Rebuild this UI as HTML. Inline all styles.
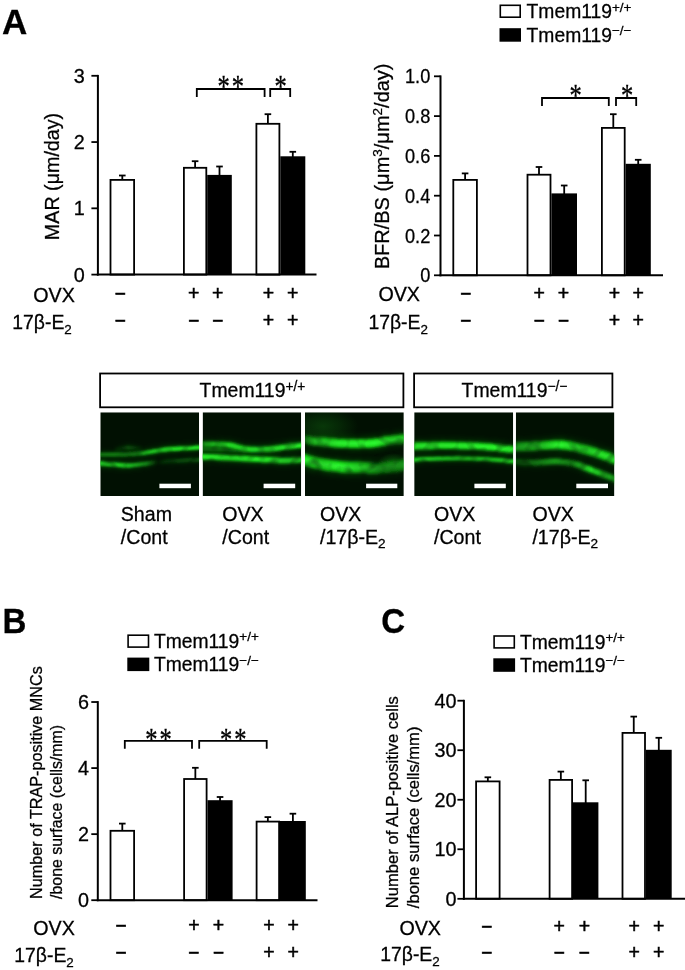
<!DOCTYPE html>
<html lang="en"><head><meta charset="utf-8"><title>Figure</title>
<style>html,body{margin:0;padding:0;background:#fff}svg{display:block}text{fill:#000;stroke:#000;stroke-width:.28px}</style>
</head><body>
<svg width="685" height="970" viewBox="0 0 685 970">
<rect width="685" height="970" fill="#fff"/>
<text x="2.0" y="34.4" font-family='"Liberation Sans", sans-serif' font-size="35" font-weight="bold" text-anchor="start" >A</text>
<text x="0" y="0" font-family='"Liberation Sans", sans-serif' font-size="36" font-weight="bold" text-anchor="start" transform="translate(2.6 632.7) scale(0.92 1)">B</text>
<text x="0" y="0" font-family='"Liberation Sans", sans-serif' font-size="36" font-weight="bold" text-anchor="start" transform="translate(381.3 632.7) scale(0.92 1)">C</text>
<line x1="122.3" y1="175.5" x2="122.3" y2="179.9" stroke="#000" stroke-width="1.8" stroke-linecap="butt"/>
<line x1="119.0" y1="175.5" x2="125.6" y2="175.5" stroke="#000" stroke-width="1.8" stroke-linecap="butt"/>
<rect x="110.5" y="179.90" width="23.600000000000005" height="94.70" fill="#fff" stroke="#000" stroke-width="1.8"/>
<line x1="195.1" y1="161.2" x2="195.1" y2="167.8" stroke="#000" stroke-width="1.8" stroke-linecap="butt"/>
<line x1="191.79999999999998" y1="161.2" x2="198.4" y2="161.2" stroke="#000" stroke-width="1.8" stroke-linecap="butt"/>
<rect x="183.9" y="167.80" width="22.399999999999988" height="106.80" fill="#fff" stroke="#000" stroke-width="1.8"/>
<line x1="219.5" y1="166.5" x2="219.5" y2="175.8" stroke="#000" stroke-width="1.8" stroke-linecap="butt"/>
<line x1="216.2" y1="166.5" x2="222.8" y2="166.5" stroke="#000" stroke-width="1.8" stroke-linecap="butt"/>
<rect x="207.2" y="174.90" width="24.600000000000023" height="99.70" fill="#000"/>
<line x1="267.9" y1="114.2" x2="267.9" y2="123.8" stroke="#000" stroke-width="1.8" stroke-linecap="butt"/>
<line x1="264.59999999999997" y1="114.2" x2="271.2" y2="114.2" stroke="#000" stroke-width="1.8" stroke-linecap="butt"/>
<rect x="256.4" y="123.80" width="23.00000000000001" height="150.80" fill="#fff" stroke="#000" stroke-width="1.8"/>
<line x1="292.8" y1="151.8" x2="292.8" y2="157.2" stroke="#000" stroke-width="1.8" stroke-linecap="butt"/>
<line x1="289.5" y1="151.8" x2="296.1" y2="151.8" stroke="#000" stroke-width="1.8" stroke-linecap="butt"/>
<rect x="280.3" y="156.30" width="25.0" height="118.30" fill="#000"/>
<line x1="97.9" y1="74.89999999999999" x2="97.9" y2="275.6" stroke="#000" stroke-width="2" stroke-linecap="butt"/>
<line x1="96.9" y1="274.6" x2="316.5" y2="274.6" stroke="#000" stroke-width="2" stroke-linecap="butt"/>
<line x1="91.4" y1="274.6" x2="97.9" y2="274.6" stroke="#000" stroke-width="1.8" stroke-linecap="butt"/>
<text x="84.8" y="281.70000000000005" font-family='"Liberation Sans", sans-serif' font-size="19.8" font-weight="normal" text-anchor="end" >0</text>
<line x1="91.4" y1="208.33000000000004" x2="97.9" y2="208.33000000000004" stroke="#000" stroke-width="1.8" stroke-linecap="butt"/>
<text x="84.8" y="215.43000000000004" font-family='"Liberation Sans", sans-serif' font-size="19.8" font-weight="normal" text-anchor="end" >1</text>
<line x1="91.4" y1="142.06000000000003" x2="97.9" y2="142.06000000000003" stroke="#000" stroke-width="1.8" stroke-linecap="butt"/>
<text x="84.8" y="149.16000000000003" font-family='"Liberation Sans", sans-serif' font-size="19.8" font-weight="normal" text-anchor="end" >2</text>
<line x1="91.4" y1="75.79000000000002" x2="97.9" y2="75.79000000000002" stroke="#000" stroke-width="1.8" stroke-linecap="butt"/>
<text x="84.8" y="82.89000000000001" font-family='"Liberation Sans", sans-serif' font-size="19.8" font-weight="normal" text-anchor="end" >3</text>
<text x="0" y="0" font-family='"Liberation Sans", sans-serif' font-size="19.7" font-weight="normal" text-anchor="middle" transform="translate(59.3 176.5) rotate(-90)">MAR (μm/day)</text>
<path d="M196.8 97V89H264.6V97" fill="none" stroke="#000" stroke-width="1.8"/>
<path d="M270.2 97V89H290.2V97" fill="none" stroke="#000" stroke-width="1.8"/>
<text transform="translate(231.70 96.86) scale(1 1.27)" font-family='"Liberation Serif", serif' font-size="24.5" text-anchor="middle" letter-spacing="2.05" stroke="#000" stroke-width="0.3">**</text>
<text transform="translate(280.60 96.86) scale(1 1.27)" font-family='"Liberation Serif", serif' font-size="24.5" text-anchor="middle" stroke="#000" stroke-width="0.3">*</text>
<text x="74.8" y="301.7" font-family='"Liberation Sans", sans-serif' font-size="19.7" font-weight="normal" text-anchor="end" >OVX</text>
<text x="71.8" y="328.6" font-family='"Liberation Sans", sans-serif' font-size="19.35" font-weight="normal" text-anchor="end" >17β-E<tspan font-size="13.4" dy="5">2</tspan></text>
<text x="120.2" y="299.52" font-family='"Liberation Sans", sans-serif' font-size="19.0" font-weight="normal" text-anchor="middle" style="stroke-width:.6px">−</text>
<text x="120.2" y="326.62" font-family='"Liberation Sans", sans-serif' font-size="19.0" font-weight="normal" text-anchor="middle" style="stroke-width:.6px">−</text>
<text x="193.8" y="299.68" font-family='"Liberation Sans", sans-serif' font-size="19.5" font-weight="normal" text-anchor="middle" style="stroke-width:.5px">+</text>
<text x="193.8" y="326.62" font-family='"Liberation Sans", sans-serif' font-size="19.0" font-weight="normal" text-anchor="middle" style="stroke-width:.6px">−</text>
<text x="217.8" y="299.68" font-family='"Liberation Sans", sans-serif' font-size="19.5" font-weight="normal" text-anchor="middle" style="stroke-width:.5px">+</text>
<text x="217.8" y="326.62" font-family='"Liberation Sans", sans-serif' font-size="19.0" font-weight="normal" text-anchor="middle" style="stroke-width:.6px">−</text>
<text x="268.5" y="299.68" font-family='"Liberation Sans", sans-serif' font-size="19.5" font-weight="normal" text-anchor="middle" style="stroke-width:.5px">+</text>
<text x="268.5" y="326.78" font-family='"Liberation Sans", sans-serif' font-size="19.5" font-weight="normal" text-anchor="middle" style="stroke-width:.5px">+</text>
<text x="292.6" y="299.68" font-family='"Liberation Sans", sans-serif' font-size="19.5" font-weight="normal" text-anchor="middle" style="stroke-width:.5px">+</text>
<text x="292.6" y="326.78" font-family='"Liberation Sans", sans-serif' font-size="19.5" font-weight="normal" text-anchor="middle" style="stroke-width:.5px">+</text>
<line x1="465.1" y1="173.4" x2="465.1" y2="179.9" stroke="#000" stroke-width="1.8" stroke-linecap="butt"/>
<line x1="461.8" y1="173.4" x2="468.40000000000003" y2="173.4" stroke="#000" stroke-width="1.8" stroke-linecap="butt"/>
<rect x="453.29999999999995" y="179.90" width="23.600000000000033" height="95.40" fill="#fff" stroke="#000" stroke-width="1.8"/>
<line x1="539.0" y1="167" x2="539.0" y2="174.7" stroke="#000" stroke-width="1.8" stroke-linecap="butt"/>
<line x1="535.7" y1="167" x2="542.3" y2="167" stroke="#000" stroke-width="1.8" stroke-linecap="butt"/>
<rect x="527.5" y="174.70" width="22.999999999999954" height="100.60" fill="#fff" stroke="#000" stroke-width="1.8"/>
<line x1="564.2" y1="185.5" x2="564.2" y2="194.3" stroke="#000" stroke-width="1.8" stroke-linecap="butt"/>
<line x1="560.9000000000001" y1="185.5" x2="567.5" y2="185.5" stroke="#000" stroke-width="1.8" stroke-linecap="butt"/>
<rect x="551.4" y="193.40" width="25.600000000000023" height="81.90" fill="#000"/>
<line x1="613.3" y1="114.2" x2="613.3" y2="127.9" stroke="#000" stroke-width="1.8" stroke-linecap="butt"/>
<line x1="610.0" y1="114.2" x2="616.5999999999999" y2="114.2" stroke="#000" stroke-width="1.8" stroke-linecap="butt"/>
<rect x="601.9" y="127.90" width="22.800000000000022" height="147.40" fill="#fff" stroke="#000" stroke-width="1.8"/>
<line x1="638.2" y1="159.8" x2="638.2" y2="164.7" stroke="#000" stroke-width="1.8" stroke-linecap="butt"/>
<line x1="634.9000000000001" y1="159.8" x2="641.5" y2="159.8" stroke="#000" stroke-width="1.8" stroke-linecap="butt"/>
<rect x="625.6" y="163.80" width="25.199999999999932" height="111.50" fill="#000"/>
<line x1="440.5" y1="75.39999999999999" x2="440.5" y2="276.3" stroke="#000" stroke-width="2" stroke-linecap="butt"/>
<line x1="439.5" y1="275.3" x2="663" y2="275.3" stroke="#000" stroke-width="2" stroke-linecap="butt"/>
<line x1="434.0" y1="275.3" x2="440.5" y2="275.3" stroke="#000" stroke-width="1.8" stroke-linecap="butt"/>
<text x="0" y="0" font-family='"Liberation Sans", sans-serif' font-size="19.8" font-weight="normal" text-anchor="end" transform="translate(430.3 282.40) scale(0.92 1)">0</text>
<line x1="434.0" y1="235.5" x2="440.5" y2="235.5" stroke="#000" stroke-width="1.8" stroke-linecap="butt"/>
<text x="0" y="0" font-family='"Liberation Sans", sans-serif' font-size="19.8" font-weight="normal" text-anchor="end" transform="translate(430.3 242.60) scale(0.92 1)">0.2</text>
<line x1="434.0" y1="195.7" x2="440.5" y2="195.7" stroke="#000" stroke-width="1.8" stroke-linecap="butt"/>
<text x="0" y="0" font-family='"Liberation Sans", sans-serif' font-size="19.8" font-weight="normal" text-anchor="end" transform="translate(430.3 202.80) scale(0.92 1)">0.4</text>
<line x1="434.0" y1="155.90000000000003" x2="440.5" y2="155.90000000000003" stroke="#000" stroke-width="1.8" stroke-linecap="butt"/>
<text x="0" y="0" font-family='"Liberation Sans", sans-serif' font-size="19.8" font-weight="normal" text-anchor="end" transform="translate(430.3 163.00) scale(0.92 1)">0.6</text>
<line x1="434.0" y1="116.1" x2="440.5" y2="116.1" stroke="#000" stroke-width="1.8" stroke-linecap="butt"/>
<text x="0" y="0" font-family='"Liberation Sans", sans-serif' font-size="19.8" font-weight="normal" text-anchor="end" transform="translate(430.3 123.20) scale(0.92 1)">0.8</text>
<line x1="434.0" y1="76.30000000000001" x2="440.5" y2="76.30000000000001" stroke="#000" stroke-width="1.8" stroke-linecap="butt"/>
<text x="0" y="0" font-family='"Liberation Sans", sans-serif' font-size="19.8" font-weight="normal" text-anchor="end" transform="translate(430.3 83.40) scale(0.92 1)">1.0</text>
<text x="0" y="0" font-family='"Liberation Sans", sans-serif' font-size="20" font-weight="normal" text-anchor="middle" transform="translate(388.8 166.4) rotate(-90)">BFR/BS (μm<tspan font-size="13.5" dy="-6.5">3</tspan><tspan dy="6.5">/μm</tspan><tspan font-size="13.5" dy="-6.5">2</tspan><tspan dy="6.5">/day)</tspan></text>
<path d="M542 105.9V98H608.8V105.9" fill="none" stroke="#000" stroke-width="1.8"/>
<path d="M616 105.9V98H636.2V105.9" fill="none" stroke="#000" stroke-width="1.8"/>
<text transform="translate(575.60 105.66) scale(1 1.27)" font-family='"Liberation Serif", serif' font-size="24.5" text-anchor="middle" stroke="#000" stroke-width="0.3">*</text>
<text transform="translate(627.20 105.66) scale(1 1.27)" font-family='"Liberation Serif", serif' font-size="24.5" text-anchor="middle" stroke="#000" stroke-width="0.3">*</text>
<text x="420" y="301.0" font-family='"Liberation Sans", sans-serif' font-size="19.7" font-weight="normal" text-anchor="end" >OVX</text>
<text x="427.9" y="328.6" font-family='"Liberation Sans", sans-serif' font-size="19.35" font-weight="normal" text-anchor="end" >17β-E<tspan font-size="13.4" dy="5">2</tspan></text>
<text x="465.8" y="299.72" font-family='"Liberation Sans", sans-serif' font-size="19.0" font-weight="normal" text-anchor="middle" style="stroke-width:.6px">−</text>
<text x="465.8" y="326.62" font-family='"Liberation Sans", sans-serif' font-size="19.0" font-weight="normal" text-anchor="middle" style="stroke-width:.6px">−</text>
<text x="539.2" y="299.88" font-family='"Liberation Sans", sans-serif' font-size="19.5" font-weight="normal" text-anchor="middle" style="stroke-width:.5px">+</text>
<text x="539.2" y="326.62" font-family='"Liberation Sans", sans-serif' font-size="19.0" font-weight="normal" text-anchor="middle" style="stroke-width:.6px">−</text>
<text x="563.5" y="299.88" font-family='"Liberation Sans", sans-serif' font-size="19.5" font-weight="normal" text-anchor="middle" style="stroke-width:.5px">+</text>
<text x="563.5" y="326.62" font-family='"Liberation Sans", sans-serif' font-size="19.0" font-weight="normal" text-anchor="middle" style="stroke-width:.6px">−</text>
<text x="614.5" y="299.88" font-family='"Liberation Sans", sans-serif' font-size="19.5" font-weight="normal" text-anchor="middle" style="stroke-width:.5px">+</text>
<text x="614.5" y="326.78" font-family='"Liberation Sans", sans-serif' font-size="19.5" font-weight="normal" text-anchor="middle" style="stroke-width:.5px">+</text>
<text x="638.2" y="299.88" font-family='"Liberation Sans", sans-serif' font-size="19.5" font-weight="normal" text-anchor="middle" style="stroke-width:.5px">+</text>
<text x="638.2" y="326.78" font-family='"Liberation Sans", sans-serif' font-size="19.5" font-weight="normal" text-anchor="middle" style="stroke-width:.5px">+</text>
<rect x="500.3" y="5.3" width="19.9" height="11.9" fill="#fff" stroke="#000" stroke-width="1.6"/>
<rect x="499.5" y="28.2" width="21.5" height="13.5" fill="#000"/>
<text x="526.6" y="18.0" font-family='"Liberation Sans", sans-serif' font-size="19.3" font-weight="normal" text-anchor="start" >Tmem119<tspan font-size="13.5" dy="-6.5">+/+</tspan></text>
<text x="526.6" y="41.7" font-family='"Liberation Sans", sans-serif' font-size="19.3" font-weight="normal" text-anchor="start" >Tmem119<tspan font-size="13.5" dy="-6.5">−/−</tspan></text>
<g><defs>
<filter id="bl1" filterUnits="userSpaceOnUse" x="-15" y="-15" width="130" height="115"><feGaussianBlur stdDeviation="1.7"/></filter>
<filter id="bl2" filterUnits="userSpaceOnUse" x="-15" y="-15" width="130" height="115"><feGaussianBlur stdDeviation="3.2"/></filter>
<filter id="bl0" filterUnits="userSpaceOnUse" x="-15" y="-15" width="130" height="115"><feGaussianBlur stdDeviation="1.2"/></filter>
<clipPath id="cp1"><rect x="0" y="0" width="98.8" height="83.7"/></clipPath>
<linearGradient id="g1_0" gradientUnits="userSpaceOnUse" x1="-3" y1="0" x2="101" y2="0"><stop offset="0" stop-color="#fff" stop-opacity="0.45"/><stop offset="0.35" stop-color="#fff" stop-opacity="0.55"/><stop offset="0.6" stop-color="#fff" stop-opacity="0.95"/><stop offset="1" stop-color="#fff" stop-opacity="1"/></linearGradient>
<mask id="m1_0" maskUnits="userSpaceOnUse" x="-5" y="-5" width="110" height="95"><rect x="-5" y="-5" width="110" height="95" fill="url(#g1_0)"/></mask>
<linearGradient id="g1_1" gradientUnits="userSpaceOnUse" x1="-3" y1="0" x2="58.5" y2="0"><stop offset="0" stop-color="#fff" stop-opacity="1"/><stop offset="0.5" stop-color="#fff" stop-opacity="0.8"/><stop offset="0.8" stop-color="#fff" stop-opacity="0.5"/><stop offset="1" stop-color="#fff" stop-opacity="0.0"/></linearGradient>
<mask id="m1_1" maskUnits="userSpaceOnUse" x="-5" y="-5" width="110" height="95"><rect x="-5" y="-5" width="110" height="95" fill="url(#g1_1)"/></mask>
<linearGradient id="g1_2" gradientUnits="userSpaceOnUse" x1="55" y1="0" x2="101" y2="0"><stop offset="0" stop-color="#fff" stop-opacity="0.0"/><stop offset="0.3" stop-color="#fff" stop-opacity="0.22"/><stop offset="1" stop-color="#fff" stop-opacity="0.3"/></linearGradient>
<mask id="m1_2" maskUnits="userSpaceOnUse" x="-5" y="-5" width="110" height="95"><rect x="-5" y="-5" width="110" height="95" fill="url(#g1_2)"/></mask>
<linearGradient id="g1_3" gradientUnits="userSpaceOnUse" x1="12" y1="0" x2="44" y2="0"><stop offset="0" stop-color="#fff" stop-opacity="0"/><stop offset="0.5" stop-color="#fff" stop-opacity="0.25"/><stop offset="1" stop-color="#fff" stop-opacity="0"/></linearGradient>
<mask id="m1_3" maskUnits="userSpaceOnUse" x="-5" y="-5" width="110" height="95"><rect x="-5" y="-5" width="110" height="95" fill="url(#g1_3)"/></mask>
<clipPath id="cp2"><rect x="0" y="0" width="98.6" height="83.7"/></clipPath>
<linearGradient id="g2_0" gradientUnits="userSpaceOnUse" x1="-3" y1="0" x2="101" y2="0"><stop offset="0" stop-color="#fff" stop-opacity="0.5"/><stop offset="0.25" stop-color="#fff" stop-opacity="0.9"/><stop offset="0.45" stop-color="#fff" stop-opacity="0.9"/><stop offset="0.7" stop-color="#fff" stop-opacity="0.85"/><stop offset="0.9" stop-color="#fff" stop-opacity="1"/><stop offset="1" stop-color="#fff" stop-opacity="1"/></linearGradient>
<mask id="m2_0" maskUnits="userSpaceOnUse" x="-5" y="-5" width="110" height="95"><rect x="-5" y="-5" width="110" height="95" fill="url(#g2_0)"/></mask>
<linearGradient id="g2_1" gradientUnits="userSpaceOnUse" x1="-3" y1="0" x2="42" y2="0"><stop offset="0" stop-color="#fff" stop-opacity="0.35"/><stop offset="1" stop-color="#fff" stop-opacity="0.3"/></linearGradient>
<mask id="m2_1" maskUnits="userSpaceOnUse" x="-5" y="-5" width="110" height="95"><rect x="-5" y="-5" width="110" height="95" fill="url(#g2_1)"/></mask>
<linearGradient id="g2_2" gradientUnits="userSpaceOnUse" x1="-3" y1="0" x2="101" y2="0"><stop offset="0" stop-color="#fff" stop-opacity="1"/><stop offset="0.3" stop-color="#fff" stop-opacity="0.85"/><stop offset="0.6" stop-color="#fff" stop-opacity="1"/><stop offset="0.8" stop-color="#fff" stop-opacity="0.8"/><stop offset="1" stop-color="#fff" stop-opacity="0.75"/></linearGradient>
<mask id="m2_2" maskUnits="userSpaceOnUse" x="-5" y="-5" width="110" height="95"><rect x="-5" y="-5" width="110" height="95" fill="url(#g2_2)"/></mask>
<clipPath id="cp3"><rect x="0" y="0" width="98.8" height="83.7"/></clipPath>
<linearGradient id="g3_0" gradientUnits="userSpaceOnUse" x1="-3" y1="0" x2="101" y2="0"><stop offset="0" stop-color="#fff" stop-opacity="0.25"/><stop offset="0.12" stop-color="#fff" stop-opacity="0.7"/><stop offset="0.35" stop-color="#fff" stop-opacity="0.95"/><stop offset="0.7" stop-color="#fff" stop-opacity="1"/><stop offset="0.85" stop-color="#fff" stop-opacity="0.8"/><stop offset="1" stop-color="#fff" stop-opacity="0.8"/></linearGradient>
<mask id="m3_0" maskUnits="userSpaceOnUse" x="-5" y="-5" width="110" height="95"><rect x="-5" y="-5" width="110" height="95" fill="url(#g3_0)"/></mask>
<linearGradient id="g3_1" gradientUnits="userSpaceOnUse" x1="-3" y1="0" x2="101" y2="0"><stop offset="0" stop-color="#fff" stop-opacity="1"/><stop offset="0.15" stop-color="#fff" stop-opacity="0.8"/><stop offset="0.35" stop-color="#fff" stop-opacity="1"/><stop offset="0.6" stop-color="#fff" stop-opacity="0.75"/><stop offset="0.78" stop-color="#fff" stop-opacity="0.45"/><stop offset="0.9" stop-color="#fff" stop-opacity="0.4"/><stop offset="1" stop-color="#fff" stop-opacity="0.55"/></linearGradient>
<mask id="m3_1" maskUnits="userSpaceOnUse" x="-5" y="-5" width="110" height="95"><rect x="-5" y="-5" width="110" height="95" fill="url(#g3_1)"/></mask>
<clipPath id="cp4"><rect x="0" y="0" width="99.0" height="83.7"/></clipPath>
<linearGradient id="g4_0" gradientUnits="userSpaceOnUse" x1="-3" y1="0" x2="102" y2="0"><stop offset="0" stop-color="#fff" stop-opacity="0.9"/><stop offset="0.5" stop-color="#fff" stop-opacity="0.95"/><stop offset="0.8" stop-color="#fff" stop-opacity="1"/><stop offset="1" stop-color="#fff" stop-opacity="0.9"/></linearGradient>
<mask id="m4_0" maskUnits="userSpaceOnUse" x="-5" y="-5" width="110" height="95"><rect x="-5" y="-5" width="110" height="95" fill="url(#g4_0)"/></mask>
<linearGradient id="g4_1" gradientUnits="userSpaceOnUse" x1="-3" y1="0" x2="102" y2="0"><stop offset="0" stop-color="#fff" stop-opacity="0.85"/><stop offset="0.5" stop-color="#fff" stop-opacity="0.7"/><stop offset="1" stop-color="#fff" stop-opacity="0.85"/></linearGradient>
<mask id="m4_1" maskUnits="userSpaceOnUse" x="-5" y="-5" width="110" height="95"><rect x="-5" y="-5" width="110" height="95" fill="url(#g4_1)"/></mask>
<clipPath id="cp5"><rect x="0" y="0" width="98.6" height="83.7"/></clipPath>
<linearGradient id="g5_0" gradientUnits="userSpaceOnUse" x1="-3" y1="0" x2="102" y2="0"><stop offset="0" stop-color="#fff" stop-opacity="0.55"/><stop offset="0.25" stop-color="#fff" stop-opacity="0.7"/><stop offset="0.45" stop-color="#fff" stop-opacity="1"/><stop offset="0.65" stop-color="#fff" stop-opacity="0.75"/><stop offset="0.85" stop-color="#fff" stop-opacity="0.9"/><stop offset="1" stop-color="#fff" stop-opacity="0.9"/></linearGradient>
<mask id="m5_0" maskUnits="userSpaceOnUse" x="-5" y="-5" width="110" height="95"><rect x="-5" y="-5" width="110" height="95" fill="url(#g5_0)"/></mask>
<linearGradient id="g5_1" gradientUnits="userSpaceOnUse" x1="-3" y1="0" x2="102" y2="0"><stop offset="0" stop-color="#fff" stop-opacity="0.25"/><stop offset="0.2" stop-color="#fff" stop-opacity="0.4"/><stop offset="0.4" stop-color="#fff" stop-opacity="0.6"/><stop offset="0.55" stop-color="#fff" stop-opacity="0.45"/><stop offset="0.75" stop-color="#fff" stop-opacity="0.9"/><stop offset="0.9" stop-color="#fff" stop-opacity="0.6"/><stop offset="1" stop-color="#fff" stop-opacity="0.8"/></linearGradient>
<mask id="m5_1" maskUnits="userSpaceOnUse" x="-5" y="-5" width="110" height="95"><rect x="-5" y="-5" width="110" height="95" fill="url(#g5_1)"/></mask>
<filter id="grain" filterUnits="userSpaceOnUse" x="-5" y="-5" width="115" height="100"><feTurbulence type="fractalNoise" baseFrequency="0.11" numOctaves="1" seed="7" result="n"/><feColorMatrix in="n" type="matrix" values="0 0 0 0 0  0 0 0 0 0  0 0 0 0 0  1.3 0 0 0 0.3" result="a"/><feComposite in="SourceGraphic" in2="a" operator="in"/></filter>
<radialGradient id="hz"><stop offset="0" stop-color="#20c020" stop-opacity="1"/><stop offset="0.5" stop-color="#20c020" stop-opacity=".55"/><stop offset="1" stop-color="#20c020" stop-opacity="0"/></radialGradient>
</defs>
<g transform="translate(100.3 412.3)"><g clip-path="url(#cp1)">
<rect x="0" y="0" width="98.8" height="83.7" fill="#011002"/>
<g filter="url(#grain)">
<g mask="url(#m1_0)">
<path d="M-3.0 42.2C0.8 42.2 12.3 42.5 20.0 42.2C27.7 42.0 35.3 41.5 43.0 40.7C50.7 39.9 56.3 38.2 66.0 37.2C75.7 36.2 95.2 35.4 101.0 35.0" fill="none" stroke="#0a800d" stroke-width="6.1" opacity=".4" filter="url(#bl2)"/>
<path d="M-3.0 42.2C0.8 42.2 12.3 42.5 20.0 42.2C27.7 42.0 35.3 41.5 43.0 40.7C50.7 39.9 56.3 38.2 66.0 37.2C75.7 36.2 95.2 35.4 101.0 35.0" fill="none" stroke="#14da18" stroke-width="4.0" filter="url(#bl1)"/>
<path d="M-3.0 42.2C0.8 42.2 12.3 42.5 20.0 42.2C27.7 42.0 35.3 41.5 43.0 40.7C50.7 39.9 56.3 38.2 66.0 37.2C75.7 36.2 95.2 35.4 101.0 35.0" fill="none" stroke="#34ff38" stroke-width="1.8" opacity=".8" filter="url(#bl0)"/>
</g>
<g mask="url(#m1_1)">
<path d="M-3.0 51.0C-0.2 51.2 8.8 51.8 14.0 52.2C19.2 52.6 22.8 53.3 28.0 53.2C33.2 53.1 39.9 52.1 45.0 51.5C50.1 50.9 56.2 50.0 58.5 49.7" fill="none" stroke="#0a800d" stroke-width="6.5" opacity=".4" filter="url(#bl2)"/>
<path d="M-3.0 51.0C-0.2 51.2 8.8 51.8 14.0 52.2C19.2 52.6 22.8 53.3 28.0 53.2C33.2 53.1 39.9 52.1 45.0 51.5C50.1 50.9 56.2 50.0 58.5 49.7" fill="none" stroke="#14da18" stroke-width="4.2" filter="url(#bl1)"/>
<path d="M-3.0 51.0C-0.2 51.2 8.8 51.8 14.0 52.2C19.2 52.6 22.8 53.3 28.0 53.2C33.2 53.1 39.9 52.1 45.0 51.5C50.1 50.9 56.2 50.0 58.5 49.7" fill="none" stroke="#34ff38" stroke-width="1.9" opacity=".8" filter="url(#bl0)"/>
</g>
<g mask="url(#m1_2)">
<path d="M55.0 50.0C58.3 49.8 67.3 49.0 75.0 48.5C82.7 48.0 96.7 47.4 101.0 47.2" fill="none" stroke="#0a800d" stroke-width="6.1" opacity=".4" filter="url(#bl2)"/>
<path d="M55.0 50.0C58.3 49.8 67.3 49.0 75.0 48.5C82.7 48.0 96.7 47.4 101.0 47.2" fill="none" stroke="#14da18" stroke-width="4.0" filter="url(#bl1)"/>
<path d="M55.0 50.0C58.3 49.8 67.3 49.0 75.0 48.5C82.7 48.0 96.7 47.4 101.0 47.2" fill="none" stroke="#34ff38" stroke-width="1.8" opacity=".8" filter="url(#bl0)"/>
</g>
<g mask="url(#m1_3)">
<path d="M12.0 37.0C14.7 36.8 22.7 35.7 28.0 35.5C33.3 35.3 41.3 35.9 44.0 36.0" fill="none" stroke="#0a800d" stroke-width="6.8" opacity=".4" filter="url(#bl2)"/>
<path d="M12.0 37.0C14.7 36.8 22.7 35.7 28.0 35.5C33.3 35.3 41.3 35.9 44.0 36.0" fill="none" stroke="#14da18" stroke-width="4.4" filter="url(#bl1)"/>
<path d="M12.0 37.0C14.7 36.8 22.7 35.7 28.0 35.5C33.3 35.3 41.3 35.9 44.0 36.0" fill="none" stroke="#34ff38" stroke-width="2.0" opacity=".8" filter="url(#bl0)"/>
</g>
</g>
</g></g>
<rect x="159.4" y="483.7" width="31.5" height="4.5" fill="#fff"/>
<g transform="translate(202.6 412.3)"><g clip-path="url(#cp2)">
<rect x="0" y="0" width="98.6" height="83.7" fill="#011002"/>
<g filter="url(#grain)">
<g mask="url(#m2_0)">
<path d="M-3.0 32.0C-0.2 32.0 8.8 31.8 14.0 32.0C19.2 32.2 23.2 32.2 28.0 33.0C32.8 33.8 36.7 36.1 43.0 36.7C49.3 37.4 58.3 37.4 66.0 36.9C73.7 36.4 83.2 34.4 89.0 33.7C94.8 33.1 99.0 33.1 101.0 33.0" fill="none" stroke="#0a800d" stroke-width="8.5" opacity=".4" filter="url(#bl2)"/>
<path d="M-3.0 32.0C-0.2 32.0 8.8 31.8 14.0 32.0C19.2 32.2 23.2 32.2 28.0 33.0C32.8 33.8 36.7 36.1 43.0 36.7C49.3 37.4 58.3 37.4 66.0 36.9C73.7 36.4 83.2 34.4 89.0 33.7C94.8 33.1 99.0 33.1 101.0 33.0" fill="none" stroke="#14da18" stroke-width="5.5" filter="url(#bl1)"/>
<path d="M-3.0 32.0C-0.2 32.0 8.8 31.8 14.0 32.0C19.2 32.2 23.2 32.2 28.0 33.0C32.8 33.8 36.7 36.1 43.0 36.7C49.3 37.4 58.3 37.4 66.0 36.9C73.7 36.4 83.2 34.4 89.0 33.7C94.8 33.1 99.0 33.1 101.0 33.0" fill="none" stroke="#34ff38" stroke-width="2.5" opacity=".8" filter="url(#bl0)"/>
</g>
<g mask="url(#m2_1)">
<path d="M-3.0 36.8C0.0 36.9 9.5 36.9 15.0 37.2C20.5 37.5 25.5 38.3 30.0 38.5C34.5 38.7 40.0 38.5 42.0 38.5" fill="none" stroke="#0a800d" stroke-width="6.0" opacity=".4" filter="url(#bl2)"/>
<path d="M-3.0 36.8C0.0 36.9 9.5 36.9 15.0 37.2C20.5 37.5 25.5 38.3 30.0 38.5C34.5 38.7 40.0 38.5 42.0 38.5" fill="none" stroke="#14da18" stroke-width="3.9" filter="url(#bl1)"/>
<path d="M-3.0 36.8C0.0 36.9 9.5 36.9 15.0 37.2C20.5 37.5 25.5 38.3 30.0 38.5C34.5 38.7 40.0 38.5 42.0 38.5" fill="none" stroke="#34ff38" stroke-width="1.8" opacity=".8" filter="url(#bl0)"/>
</g>
<g mask="url(#m2_2)">
<path d="M-3.0 44.3C2.2 44.5 17.8 45.0 28.0 45.5C38.2 46.0 49.7 46.5 58.5 47.0C67.3 47.5 73.9 48.2 81.0 48.3C88.1 48.4 97.7 47.5 101.0 47.4" fill="none" stroke="#0a800d" stroke-width="8.8" opacity=".4" filter="url(#bl2)"/>
<path d="M-3.0 44.3C2.2 44.5 17.8 45.0 28.0 45.5C38.2 46.0 49.7 46.5 58.5 47.0C67.3 47.5 73.9 48.2 81.0 48.3C88.1 48.4 97.7 47.5 101.0 47.4" fill="none" stroke="#14da18" stroke-width="5.7" filter="url(#bl1)"/>
<path d="M-3.0 44.3C2.2 44.5 17.8 45.0 28.0 45.5C38.2 46.0 49.7 46.5 58.5 47.0C67.3 47.5 73.9 48.2 81.0 48.3C88.1 48.4 97.7 47.5 101.0 47.4" fill="none" stroke="#34ff38" stroke-width="2.6" opacity=".8" filter="url(#bl0)"/>
</g>
</g>
</g></g>
<rect x="263.6" y="483.7" width="31.6" height="4.5" fill="#fff"/>
<g transform="translate(305.0 412.3)"><g clip-path="url(#cp3)">
<rect x="0" y="0" width="98.8" height="83.7" fill="#011002"/>
<ellipse cx="18" cy="14" rx="35.2" ry="19.200000000000003" fill="url(#hz)" opacity="0.22399999999999998"/>
<ellipse cx="88" cy="52" rx="16.0" ry="11.200000000000001" fill="url(#hz)" opacity="0.35"/>
<g filter="url(#grain)">
<g mask="url(#m3_0)">
<path d="M-3.0 27.3C-0.3 27.6 6.9 28.5 13.4 29.1C19.9 29.7 27.1 30.7 36.0 31.0C44.9 31.3 58.9 31.4 66.5 31.0C74.1 30.6 76.0 29.2 81.7 28.4C87.5 27.5 97.8 26.3 101.0 25.9" fill="none" stroke="#0a800d" stroke-width="13.6" opacity=".4" filter="url(#bl2)"/>
<path d="M-3.0 27.3C-0.3 27.6 6.9 28.5 13.4 29.1C19.9 29.7 27.1 30.7 36.0 31.0C44.9 31.3 58.9 31.4 66.5 31.0C74.1 30.6 76.0 29.2 81.7 28.4C87.5 27.5 97.8 26.3 101.0 25.9" fill="none" stroke="#14da18" stroke-width="8.8" filter="url(#bl1)"/>
<path d="M-3.0 27.3C-0.3 27.6 6.9 28.5 13.4 29.1C19.9 29.7 27.1 30.7 36.0 31.0C44.9 31.3 58.9 31.4 66.5 31.0C74.1 30.6 76.0 29.2 81.7 28.4C87.5 27.5 97.8 26.3 101.0 25.9" fill="none" stroke="#34ff38" stroke-width="4.0" opacity=".8" filter="url(#bl0)"/>
</g>
<g mask="url(#m3_1)">
<path d="M-3.0 46.5C-0.3 47.3 6.9 49.9 13.4 51.2C19.9 52.5 28.4 53.7 36.0 54.4C43.6 55.1 52.7 55.0 59.0 55.2C65.3 55.5 67.0 56.4 74.0 55.9C81.0 55.4 96.5 52.6 101.0 52.0" fill="none" stroke="#0a800d" stroke-width="17.0" opacity=".4" filter="url(#bl2)"/>
<path d="M-3.0 46.5C-0.3 47.3 6.9 49.9 13.4 51.2C19.9 52.5 28.4 53.7 36.0 54.4C43.6 55.1 52.7 55.0 59.0 55.2C65.3 55.5 67.0 56.4 74.0 55.9C81.0 55.4 96.5 52.6 101.0 52.0" fill="none" stroke="#14da18" stroke-width="11.0" filter="url(#bl1)"/>
<path d="M-3.0 46.5C-0.3 47.3 6.9 49.9 13.4 51.2C19.9 52.5 28.4 53.7 36.0 54.4C43.6 55.1 52.7 55.0 59.0 55.2C65.3 55.5 67.0 56.4 74.0 55.9C81.0 55.4 96.5 52.6 101.0 52.0" fill="none" stroke="#34ff38" stroke-width="5.0" opacity=".8" filter="url(#bl0)"/>
</g>
</g>
</g></g>
<rect x="366.1" y="483.7" width="31.2" height="4.5" fill="#fff"/>
<g transform="translate(414.2 412.3)"><g clip-path="url(#cp4)">
<rect x="0" y="0" width="99.0" height="83.7" fill="#011002"/>
<g filter="url(#grain)">
<g mask="url(#m4_0)">
<path d="M-3.0 33.9C2.2 33.8 17.8 33.0 28.0 33.0C38.2 33.0 49.7 33.3 58.5 33.7C67.3 34.1 73.8 34.5 81.0 35.2C88.2 35.9 98.5 37.4 102.0 37.8" fill="none" stroke="#0a800d" stroke-width="11.0" opacity=".4" filter="url(#bl2)"/>
<path d="M-3.0 33.9C2.2 33.8 17.8 33.0 28.0 33.0C38.2 33.0 49.7 33.3 58.5 33.7C67.3 34.1 73.8 34.5 81.0 35.2C88.2 35.9 98.5 37.4 102.0 37.8" fill="none" stroke="#14da18" stroke-width="7.2" filter="url(#bl1)"/>
<path d="M-3.0 33.9C2.2 33.8 17.8 33.0 28.0 33.0C38.2 33.0 49.7 33.3 58.5 33.7C67.3 34.1 73.8 34.5 81.0 35.2C88.2 35.9 98.5 37.4 102.0 37.8" fill="none" stroke="#34ff38" stroke-width="3.2" opacity=".8" filter="url(#bl0)"/>
</g>
<g mask="url(#m4_1)">
<path d="M-3.0 47.6C2.2 47.4 17.8 46.4 28.0 46.2C38.2 46.0 49.7 46.0 58.5 46.2C67.3 46.4 73.8 46.9 81.0 47.4C88.2 47.9 98.5 49.1 102.0 49.4" fill="none" stroke="#0a800d" stroke-width="6.1" opacity=".4" filter="url(#bl2)"/>
<path d="M-3.0 47.6C2.2 47.4 17.8 46.4 28.0 46.2C38.2 46.0 49.7 46.0 58.5 46.2C67.3 46.4 73.8 46.9 81.0 47.4C88.2 47.9 98.5 49.1 102.0 49.4" fill="none" stroke="#14da18" stroke-width="4.0" filter="url(#bl1)"/>
<path d="M-3.0 47.6C2.2 47.4 17.8 46.4 28.0 46.2C38.2 46.0 49.7 46.0 58.5 46.2C67.3 46.4 73.8 46.9 81.0 47.4C88.2 47.9 98.5 49.1 102.0 49.4" fill="none" stroke="#34ff38" stroke-width="1.8" opacity=".8" filter="url(#bl0)"/>
</g>
</g>
</g></g>
<rect x="474.4" y="483.7" width="31.4" height="4.5" fill="#fff"/>
<g transform="translate(515.8 412.3)"><g clip-path="url(#cp5)">
<rect x="0" y="0" width="98.6" height="83.7" fill="#011002"/>
<g filter="url(#grain)">
<g mask="url(#m5_0)">
<path d="M-3.0 34.6C0.8 34.5 11.8 34.1 20.0 33.7C28.2 33.4 38.4 32.1 46.0 32.5C53.6 32.9 59.9 35.0 65.7 36.3C71.5 37.6 75.0 38.5 81.0 40.5C87.0 42.5 98.5 46.8 102.0 48.0" fill="none" stroke="#0a800d" stroke-width="13.6" opacity=".4" filter="url(#bl2)"/>
<path d="M-3.0 34.6C0.8 34.5 11.8 34.1 20.0 33.7C28.2 33.4 38.4 32.1 46.0 32.5C53.6 32.9 59.9 35.0 65.7 36.3C71.5 37.6 75.0 38.5 81.0 40.5C87.0 42.5 98.5 46.8 102.0 48.0" fill="none" stroke="#14da18" stroke-width="8.8" filter="url(#bl1)"/>
<path d="M-3.0 34.6C0.8 34.5 11.8 34.1 20.0 33.7C28.2 33.4 38.4 32.1 46.0 32.5C53.6 32.9 59.9 35.0 65.7 36.3C71.5 37.6 75.0 38.5 81.0 40.5C87.0 42.5 98.5 46.8 102.0 48.0" fill="none" stroke="#34ff38" stroke-width="4.0" opacity=".8" filter="url(#bl0)"/>
</g>
<g mask="url(#m5_1)">
<path d="M-3.0 49.5C0.8 49.6 12.8 50.5 20.0 50.4C27.2 50.3 33.7 48.8 40.0 48.9C46.3 49.0 51.9 49.7 58.0 51.2C64.1 52.7 70.8 55.9 76.4 58.0C82.0 60.1 87.2 62.0 91.5 63.7C95.8 65.4 100.2 67.5 102.0 68.2" fill="none" stroke="#0a800d" stroke-width="9.3" opacity=".4" filter="url(#bl2)"/>
<path d="M-3.0 49.5C0.8 49.6 12.8 50.5 20.0 50.4C27.2 50.3 33.7 48.8 40.0 48.9C46.3 49.0 51.9 49.7 58.0 51.2C64.1 52.7 70.8 55.9 76.4 58.0C82.0 60.1 87.2 62.0 91.5 63.7C95.8 65.4 100.2 67.5 102.0 68.2" fill="none" stroke="#14da18" stroke-width="6.1" filter="url(#bl1)"/>
<path d="M-3.0 49.5C0.8 49.6 12.8 50.5 20.0 50.4C27.2 50.3 33.7 48.8 40.0 48.9C46.3 49.0 51.9 49.7 58.0 51.2C64.1 52.7 70.8 55.9 76.4 58.0C82.0 60.1 87.2 62.0 91.5 63.7C95.8 65.4 100.2 67.5 102.0 68.2" fill="none" stroke="#34ff38" stroke-width="2.8" opacity=".8" filter="url(#bl0)"/>
</g>
</g>
</g></g>
<rect x="576.3" y="483.7" width="31.7" height="4.5" fill="#fff"/>
<rect x="100.10000000000001" y="373.5" width="303.3" height="33.79999999999997" fill="#fff" stroke="#000" stroke-width="1.8"/>
<rect x="414.09999999999997" y="373.5" width="198.29999999999995" height="33.79999999999997" fill="#fff" stroke="#000" stroke-width="1.8"/>
<text x="199.6" y="397.2" font-family='"Liberation Sans", sans-serif' font-size="19.4" text-anchor="start">Tmem119<tspan font-size="13.8" dy="-6.5">+/+</tspan></text>
<text x="461.6" y="397.2" font-family='"Liberation Sans", sans-serif' font-size="19.4" text-anchor="start">Tmem119<tspan font-size="13.8" dy="-6.5">−/−</tspan></text>
<text x="120.8" y="520.7" font-family='"Liberation Sans", sans-serif' font-size="19.6" text-anchor="start">Sham</text>
<text x="120.8" y="544.3" font-family='"Liberation Sans", sans-serif' font-size="19.6" text-anchor="start">/Cont</text>
<text x="222.3" y="520.7" font-family='"Liberation Sans", sans-serif' font-size="19.6" text-anchor="start">OVX</text>
<text x="222.3" y="544.3" font-family='"Liberation Sans", sans-serif' font-size="19.6" text-anchor="start">/Cont</text>
<text x="320" y="520.7" font-family='"Liberation Sans", sans-serif' font-size="19.6" text-anchor="start">OVX</text>
<text x="320" y="544.3" font-family='"Liberation Sans", sans-serif' font-size="19.6" text-anchor="start">/17β-E<tspan font-size="13.6" dy="4">2</tspan></text>
<text x="434" y="520.7" font-family='"Liberation Sans", sans-serif' font-size="19.6" text-anchor="start">OVX</text>
<text x="434" y="544.3" font-family='"Liberation Sans", sans-serif' font-size="19.6" text-anchor="start">/Cont</text>
<text x="532.4" y="520.7" font-family='"Liberation Sans", sans-serif' font-size="19.6" text-anchor="start">OVX</text>
<text x="532.4" y="544.3" font-family='"Liberation Sans", sans-serif' font-size="19.6" text-anchor="start">/17β-E<tspan font-size="13.6" dy="4">2</tspan></text></g>
<line x1="122.3" y1="823.6" x2="122.3" y2="830.8" stroke="#000" stroke-width="1.8" stroke-linecap="butt"/>
<line x1="119.0" y1="823.6" x2="125.6" y2="823.6" stroke="#000" stroke-width="1.8" stroke-linecap="butt"/>
<rect x="110.5" y="830.80" width="23.600000000000005" height="69.40" fill="#fff" stroke="#000" stroke-width="1.8"/>
<line x1="195.35" y1="767.8" x2="195.35" y2="779.0" stroke="#000" stroke-width="1.8" stroke-linecap="butt"/>
<line x1="192.04999999999998" y1="767.8" x2="198.65" y2="767.8" stroke="#000" stroke-width="1.8" stroke-linecap="butt"/>
<rect x="184.1" y="779.00" width="22.50000000000001" height="121.20" fill="#fff" stroke="#000" stroke-width="1.8"/>
<line x1="220.05" y1="797" x2="220.05" y2="801.1" stroke="#000" stroke-width="1.8" stroke-linecap="butt"/>
<line x1="216.75" y1="797" x2="223.35000000000002" y2="797" stroke="#000" stroke-width="1.8" stroke-linecap="butt"/>
<rect x="207.5" y="800.20" width="25.099999999999994" height="100.00" fill="#000"/>
<line x1="267.85" y1="817.1" x2="267.85" y2="821.6" stroke="#000" stroke-width="1.8" stroke-linecap="butt"/>
<line x1="264.55" y1="817.1" x2="271.15000000000003" y2="817.1" stroke="#000" stroke-width="1.8" stroke-linecap="butt"/>
<rect x="256.59999999999997" y="821.60" width="22.50000000000001" height="78.60" fill="#fff" stroke="#000" stroke-width="1.8"/>
<line x1="292.9" y1="813.7" x2="292.9" y2="821.9" stroke="#000" stroke-width="1.8" stroke-linecap="butt"/>
<line x1="289.59999999999997" y1="813.7" x2="296.2" y2="813.7" stroke="#000" stroke-width="1.8" stroke-linecap="butt"/>
<rect x="280" y="821.00" width="25.80000000000001" height="79.20" fill="#000"/>
<line x1="97.8" y1="701.1" x2="97.8" y2="901.2" stroke="#000" stroke-width="2" stroke-linecap="butt"/>
<line x1="96.8" y1="900.2" x2="317.5" y2="900.2" stroke="#000" stroke-width="2" stroke-linecap="butt"/>
<line x1="91.3" y1="900.2" x2="97.8" y2="900.2" stroke="#000" stroke-width="1.8" stroke-linecap="butt"/>
<text x="88.9" y="907.3000000000001" font-family='"Liberation Sans", sans-serif' font-size="19.8" font-weight="normal" text-anchor="end" >0</text>
<line x1="91.3" y1="834.1400000000001" x2="97.8" y2="834.1400000000001" stroke="#000" stroke-width="1.8" stroke-linecap="butt"/>
<text x="88.9" y="841.2400000000001" font-family='"Liberation Sans", sans-serif' font-size="19.8" font-weight="normal" text-anchor="end" >2</text>
<line x1="91.3" y1="768.08" x2="97.8" y2="768.08" stroke="#000" stroke-width="1.8" stroke-linecap="butt"/>
<text x="88.9" y="775.1800000000001" font-family='"Liberation Sans", sans-serif' font-size="19.8" font-weight="normal" text-anchor="end" >4</text>
<line x1="91.3" y1="702.02" x2="97.8" y2="702.02" stroke="#000" stroke-width="1.8" stroke-linecap="butt"/>
<text x="88.9" y="709.12" font-family='"Liberation Sans", sans-serif' font-size="19.8" font-weight="normal" text-anchor="end" >6</text>
<text x="0" y="0" font-family='"Liberation Sans", sans-serif' font-size="16.2" font-weight="normal" text-anchor="start" transform="translate(41.9 898.9) rotate(-90)">Number of TRAP-positive MNCs</text>
<text x="0" y="0" font-family='"Liberation Sans", sans-serif' font-size="15.9" font-weight="normal" text-anchor="start" transform="translate(62.3 898.9) rotate(-90)">/bone surface (cells/mm)</text>
<path d="M124.8 748.8V740.8H192V748.8" fill="none" stroke="#000" stroke-width="1.8"/>
<path d="M199.2 748.8V740.8H266.7V748.8" fill="none" stroke="#000" stroke-width="1.8"/>
<text transform="translate(159.60 749.76) scale(1 1.27)" font-family='"Liberation Serif", serif' font-size="24.5" text-anchor="middle" letter-spacing="2.05" stroke="#000" stroke-width="0.3">**</text>
<text transform="translate(234.30 749.76) scale(1 1.27)" font-family='"Liberation Serif", serif' font-size="24.5" text-anchor="middle" letter-spacing="2.05" stroke="#000" stroke-width="0.3">**</text>
<text x="74.8" y="934.55" font-family='"Liberation Sans", sans-serif' font-size="19.7" font-weight="normal" text-anchor="end" >OVX</text>
<text x="73.8" y="961.5" font-family='"Liberation Sans", sans-serif' font-size="19.35" font-weight="normal" text-anchor="end" >17β-E<tspan font-size="13.4" dy="5">2</tspan></text>
<text x="121" y="932.32" font-family='"Liberation Sans", sans-serif' font-size="19.0" font-weight="normal" text-anchor="middle" style="stroke-width:.6px">−</text>
<text x="121" y="958.92" font-family='"Liberation Sans", sans-serif' font-size="19.0" font-weight="normal" text-anchor="middle" style="stroke-width:.6px">−</text>
<text x="193.9" y="932.48" font-family='"Liberation Sans", sans-serif' font-size="19.5" font-weight="normal" text-anchor="middle" style="stroke-width:.5px">+</text>
<text x="193.9" y="958.92" font-family='"Liberation Sans", sans-serif' font-size="19.0" font-weight="normal" text-anchor="middle" style="stroke-width:.6px">−</text>
<text x="218.5" y="932.48" font-family='"Liberation Sans", sans-serif' font-size="19.5" font-weight="normal" text-anchor="middle" style="stroke-width:.5px">+</text>
<text x="218.5" y="958.92" font-family='"Liberation Sans", sans-serif' font-size="19.0" font-weight="normal" text-anchor="middle" style="stroke-width:.6px">−</text>
<text x="269" y="932.48" font-family='"Liberation Sans", sans-serif' font-size="19.5" font-weight="normal" text-anchor="middle" style="stroke-width:.5px">+</text>
<text x="269" y="959.08" font-family='"Liberation Sans", sans-serif' font-size="19.5" font-weight="normal" text-anchor="middle" style="stroke-width:.5px">+</text>
<text x="293.3" y="932.48" font-family='"Liberation Sans", sans-serif' font-size="19.5" font-weight="normal" text-anchor="middle" style="stroke-width:.5px">+</text>
<text x="293.3" y="959.08" font-family='"Liberation Sans", sans-serif' font-size="19.5" font-weight="normal" text-anchor="middle" style="stroke-width:.5px">+</text>
<rect x="128.1" y="635.1999999999999" width="20.4" height="11.9" fill="#fff" stroke="#000" stroke-width="1.6"/>
<rect x="127.3" y="657.6" width="22" height="13.5" fill="#000"/>
<text x="153.9" y="647.9" font-family='"Liberation Sans", sans-serif' font-size="19.3" font-weight="normal" text-anchor="start" >Tmem119<tspan font-size="13.5" dy="-6.5">+/+</tspan></text>
<text x="153.9" y="671.1" font-family='"Liberation Sans", sans-serif' font-size="19.3" font-weight="normal" text-anchor="start" >Tmem119<tspan font-size="13.5" dy="-6.5">−/−</tspan></text>
<line x1="487.85" y1="777.3" x2="487.85" y2="781.4" stroke="#000" stroke-width="1.8" stroke-linecap="butt"/>
<line x1="484.55" y1="777.3" x2="491.15000000000003" y2="777.3" stroke="#000" stroke-width="1.8" stroke-linecap="butt"/>
<rect x="476.09999999999997" y="781.40" width="23.50000000000001" height="117.40" fill="#fff" stroke="#000" stroke-width="1.8"/>
<line x1="560.85" y1="771.6" x2="560.85" y2="779.9" stroke="#000" stroke-width="1.8" stroke-linecap="butt"/>
<line x1="557.5500000000001" y1="771.6" x2="564.15" y2="771.6" stroke="#000" stroke-width="1.8" stroke-linecap="butt"/>
<rect x="549.6" y="779.90" width="22.499999999999954" height="118.90" fill="#fff" stroke="#000" stroke-width="1.8"/>
<line x1="585.7" y1="780.3" x2="585.7" y2="803.2" stroke="#000" stroke-width="1.8" stroke-linecap="butt"/>
<line x1="582.4000000000001" y1="780.3" x2="589.0" y2="780.3" stroke="#000" stroke-width="1.8" stroke-linecap="butt"/>
<rect x="573" y="802.30" width="25.399999999999977" height="96.50" fill="#000"/>
<line x1="633.75" y1="716.6" x2="633.75" y2="732.9" stroke="#000" stroke-width="1.8" stroke-linecap="butt"/>
<line x1="630.45" y1="716.6" x2="637.05" y2="716.6" stroke="#000" stroke-width="1.8" stroke-linecap="butt"/>
<rect x="622.5" y="732.90" width="22.499999999999954" height="165.90" fill="#fff" stroke="#000" stroke-width="1.8"/>
<line x1="658.8" y1="737.8" x2="658.8" y2="750.7" stroke="#000" stroke-width="1.8" stroke-linecap="butt"/>
<line x1="655.5" y1="737.8" x2="662.0999999999999" y2="737.8" stroke="#000" stroke-width="1.8" stroke-linecap="butt"/>
<rect x="645.9" y="749.80" width="25.800000000000068" height="149.00" fill="#000"/>
<line x1="463.9" y1="699.8000000000001" x2="463.9" y2="899.8" stroke="#000" stroke-width="2" stroke-linecap="butt"/>
<line x1="462.9" y1="898.8" x2="686" y2="898.8" stroke="#000" stroke-width="2" stroke-linecap="butt"/>
<line x1="457.4" y1="898.8" x2="463.9" y2="898.8" stroke="#000" stroke-width="1.8" stroke-linecap="butt"/>
<text x="456.6" y="905.9" font-family='"Liberation Sans", sans-serif' font-size="19.8" font-weight="normal" text-anchor="end" >0</text>
<line x1="457.4" y1="849.275" x2="463.9" y2="849.275" stroke="#000" stroke-width="1.8" stroke-linecap="butt"/>
<text x="456.6" y="856.375" font-family='"Liberation Sans", sans-serif' font-size="19.8" font-weight="normal" text-anchor="end" >10</text>
<line x1="457.4" y1="799.75" x2="463.9" y2="799.75" stroke="#000" stroke-width="1.8" stroke-linecap="butt"/>
<text x="456.6" y="806.85" font-family='"Liberation Sans", sans-serif' font-size="19.8" font-weight="normal" text-anchor="end" >20</text>
<line x1="457.4" y1="750.2249999999999" x2="463.9" y2="750.2249999999999" stroke="#000" stroke-width="1.8" stroke-linecap="butt"/>
<text x="456.6" y="757.3249999999999" font-family='"Liberation Sans", sans-serif' font-size="19.8" font-weight="normal" text-anchor="end" >30</text>
<line x1="457.4" y1="700.6999999999999" x2="463.9" y2="700.6999999999999" stroke="#000" stroke-width="1.8" stroke-linecap="butt"/>
<text x="456.6" y="707.8" font-family='"Liberation Sans", sans-serif' font-size="19.8" font-weight="normal" text-anchor="end" >40</text>
<text x="0" y="0" font-family='"Liberation Sans", sans-serif' font-size="16.6" font-weight="normal" text-anchor="start" transform="translate(397.8 908.2) rotate(-90)">Number of ALP-positive cells</text>
<text x="0" y="0" font-family='"Liberation Sans", sans-serif' font-size="16.6" font-weight="normal" text-anchor="start" transform="translate(418.8 908.2) rotate(-90)">/bone surface (cells/mm)</text>
<text x="441" y="934.7" font-family='"Liberation Sans", sans-serif' font-size="19.7" font-weight="normal" text-anchor="end" >OVX</text>
<text x="439.7" y="961.3" font-family='"Liberation Sans", sans-serif' font-size="19.35" font-weight="normal" text-anchor="end" >17β-E<tspan font-size="13.4" dy="5">2</tspan></text>
<text x="486.9" y="932.72" font-family='"Liberation Sans", sans-serif' font-size="19.0" font-weight="normal" text-anchor="middle" style="stroke-width:.6px">−</text>
<text x="486.9" y="959.32" font-family='"Liberation Sans", sans-serif' font-size="19.0" font-weight="normal" text-anchor="middle" style="stroke-width:.6px">−</text>
<text x="559.3" y="932.88" font-family='"Liberation Sans", sans-serif' font-size="19.5" font-weight="normal" text-anchor="middle" style="stroke-width:.5px">+</text>
<text x="559.3" y="959.32" font-family='"Liberation Sans", sans-serif' font-size="19.0" font-weight="normal" text-anchor="middle" style="stroke-width:.6px">−</text>
<text x="584.4" y="932.88" font-family='"Liberation Sans", sans-serif' font-size="19.5" font-weight="normal" text-anchor="middle" style="stroke-width:.5px">+</text>
<text x="584.4" y="959.32" font-family='"Liberation Sans", sans-serif' font-size="19.0" font-weight="normal" text-anchor="middle" style="stroke-width:.6px">−</text>
<text x="634.1" y="932.88" font-family='"Liberation Sans", sans-serif' font-size="19.5" font-weight="normal" text-anchor="middle" style="stroke-width:.5px">+</text>
<text x="634.1" y="959.48" font-family='"Liberation Sans", sans-serif' font-size="19.5" font-weight="normal" text-anchor="middle" style="stroke-width:.5px">+</text>
<text x="658.8" y="932.88" font-family='"Liberation Sans", sans-serif' font-size="19.5" font-weight="normal" text-anchor="middle" style="stroke-width:.5px">+</text>
<text x="658.8" y="959.48" font-family='"Liberation Sans", sans-serif' font-size="19.5" font-weight="normal" text-anchor="middle" style="stroke-width:.5px">+</text>
<rect x="494.1" y="636.0" width="20.2" height="11.9" fill="#fff" stroke="#000" stroke-width="1.6"/>
<rect x="493.3" y="658.3" width="21.8" height="13.5" fill="#000"/>
<text x="520" y="648.7" font-family='"Liberation Sans", sans-serif' font-size="19.3" font-weight="normal" text-anchor="start" >Tmem119<tspan font-size="13.5" dy="-6.5">+/+</tspan></text>
<text x="520" y="671.8" font-family='"Liberation Sans", sans-serif' font-size="19.3" font-weight="normal" text-anchor="start" >Tmem119<tspan font-size="13.5" dy="-6.5">−/−</tspan></text>
</svg>
</body></html>
